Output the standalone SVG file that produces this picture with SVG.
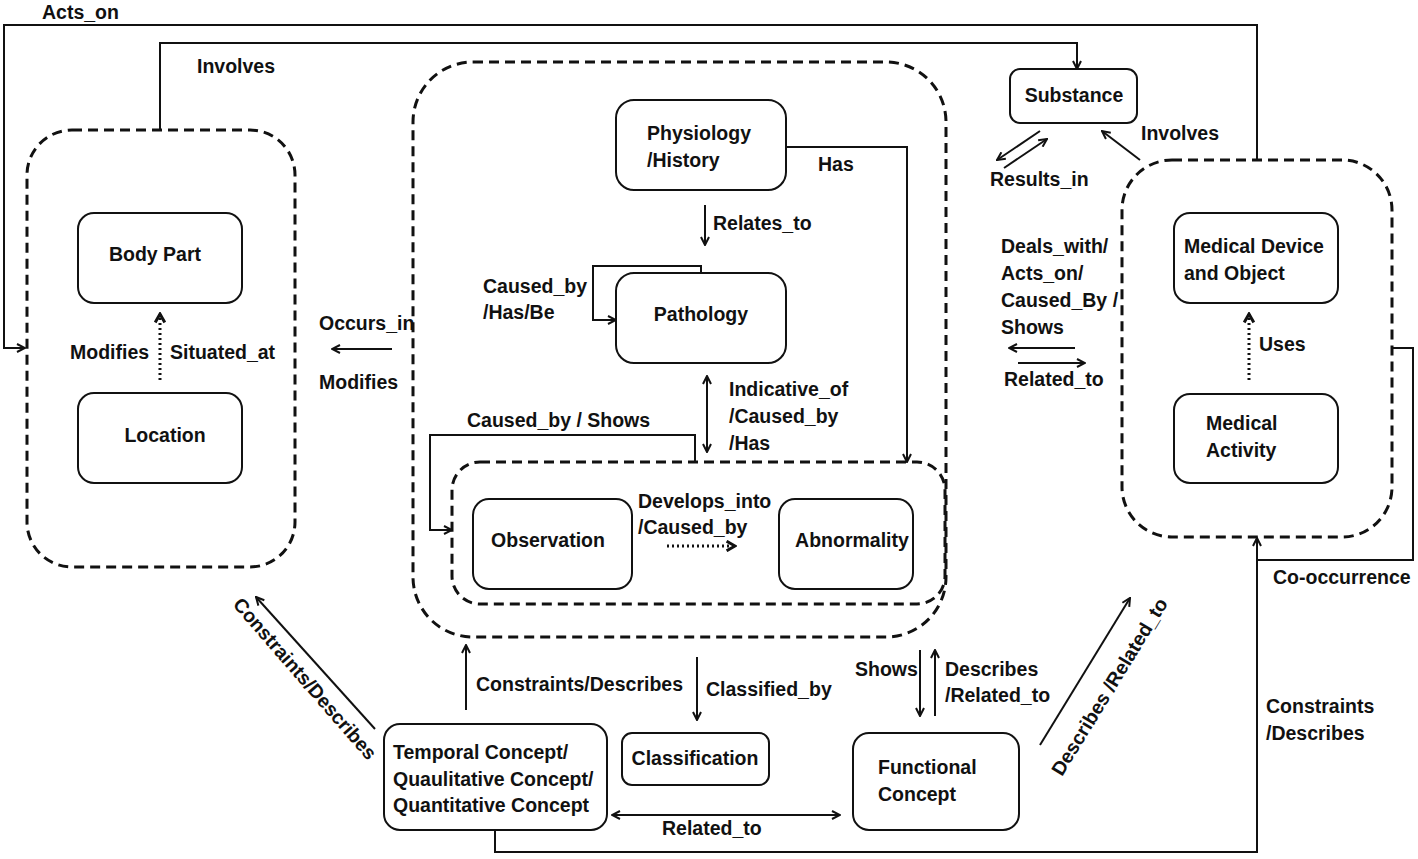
<svg xmlns="http://www.w3.org/2000/svg" width="1418" height="859" viewBox="0 0 1418 859">
<style>
text{font-family:"Liberation Sans",Arial,sans-serif;font-size:19.5px;font-weight:bold;fill:#111}
.box{fill:#fff;stroke:#111;stroke-width:2}
.grp{fill:none;stroke:#111;stroke-width:3;stroke-dasharray:10,6}
.ln{fill:none;stroke:#111;stroke-width:2}
.dot{fill:none;stroke:#111;stroke-width:3;stroke-dasharray:2,3}
.c{text-anchor:middle}
</style>
<defs>
<marker id="a" viewBox="0 0 10 10" refX="9" refY="5" markerWidth="10" markerHeight="10" markerUnits="userSpaceOnUse" orient="auto-start-reverse">
<path d="M1,1 L9,5 L1,9" fill="none" stroke="#111" stroke-width="2"/>
</marker>
<marker id="b" viewBox="0 0 10 10" refX="8" refY="5" markerWidth="12" markerHeight="12" markerUnits="userSpaceOnUse" orient="auto">
<path d="M1,1 L8,5 L1,9" fill="none" stroke="#111" stroke-width="2.5"/>
</marker>
</defs>
<rect width="1418" height="859" fill="#fff"/>

<g id="groups">
<rect id="g-left" class="grp" x="27" y="130" width="268" height="437" rx="45"/>
<rect id="g-center" class="grp" x="413" y="62" width="533" height="575" rx="60"/>
<rect id="g-inner" class="grp" x="452" y="462" width="493" height="142" rx="28"/>
<rect id="g-right" class="grp" x="1122" y="160" width="270" height="377" rx="50"/>
</g>

<g id="connectors">
<polyline class="ln" points="1257,160 1257,25 4,25 4,348 25,348" marker-end="url(#a)"/>
<polyline class="ln" points="160,130 160,43 1077,43 1077,69" marker-end="url(#a)"/>
<line class="ln" x1="1040" y1="131" x2="997" y2="160" marker-end="url(#a)"/>
<line class="ln" x1="1004" y1="168" x2="1047" y2="139" marker-end="url(#a)"/>
<line class="ln" x1="1140" y1="160" x2="1102" y2="131" marker-end="url(#a)"/>
<line class="dot" x1="160" y1="380" x2="160" y2="314" marker-end="url(#b)"/>
<line class="dot" x1="1249" y1="380" x2="1249" y2="314" marker-end="url(#b)"/>
<line class="dot" x1="667" y1="546" x2="735" y2="546" marker-end="url(#b)"/>
<line class="ln" x1="392" y1="349" x2="332" y2="349" marker-end="url(#a)"/>
<polyline class="ln" points="786,147 907,147 907,462" marker-end="url(#a)"/>
<line class="ln" x1="705" y1="205" x2="705" y2="245" marker-end="url(#a)"/>
<polyline class="ln" points="701,273 701,266 593,266 593,320 616,320" marker-end="url(#a)"/>
<line class="ln" x1="707" y1="376" x2="707" y2="452" marker-start="url(#a)" marker-end="url(#a)"/>
<polyline class="ln" points="695,462 695,435 430,435 430,530 452,530" marker-end="url(#a)"/>
<line class="ln" x1="1075" y1="348" x2="1009" y2="348" marker-end="url(#a)"/>
<line class="ln" x1="1018" y1="363" x2="1085" y2="363" marker-end="url(#a)"/>
<polyline class="ln" points="1392,348 1413,348 1413,560 1257,560 1257,538" marker-end="url(#a)"/>
<polyline class="ln" points="495,830 495,852 1257,852 1257,560"/>
<line class="ln" x1="466" y1="710" x2="466" y2="645" marker-end="url(#a)"/>
<line class="ln" x1="697" y1="657" x2="697" y2="720" marker-end="url(#a)"/>
<line class="ln" x1="612" y1="815" x2="840" y2="815" marker-start="url(#a)" marker-end="url(#a)"/>
<line class="ln" x1="920" y1="650" x2="920" y2="716" marker-end="url(#a)"/>
<line class="ln" x1="935" y1="716" x2="935" y2="650" marker-end="url(#a)"/>
<line class="ln" x1="1040" y1="745" x2="1130" y2="598" marker-end="url(#a)"/>
<line class="ln" x1="375" y1="729" x2="256" y2="597" marker-end="url(#a)"/>
</g>

<g id="labels">
<text x="42" y="19">Acts_on</text>
<text x="197" y="73">Involves</text>
<text x="990" y="186">Results_in</text>
<text x="1141" y="140">Involves</text>
<text x="70" y="359">Modifies</text>
<text x="170" y="359">Situated_at</text>
<text x="319" y="330">Occurs_in</text>
<text x="319" y="389">Modifies</text>
<text x="818" y="171">Has</text>
<text x="713" y="230">Relates_to</text>
<text x="483" y="293">Caused_by</text>
<text x="483" y="319">/Has/Be</text>
<text x="729" y="396">Indicative_of</text>
<text x="729" y="423">/Caused_by</text>
<text x="729" y="450">/Has</text>
<text x="467" y="427">Caused_by / Shows</text>
<text x="638" y="508">Develops_into</text>
<text x="638" y="534">/Caused_by</text>
<text x="1001" y="253">Deals_with/</text>
<text x="1001" y="280">Acts_on/</text>
<text x="1001" y="307">Caused_By /</text>
<text x="1001" y="334">Shows</text>
<text x="1004" y="386">Related_to</text>
<text x="1259" y="351">Uses</text>
<text x="1273" y="584">Co-occurrence</text>
<text x="1266" y="713">Constraints</text>
<text x="1266" y="740">/Describes</text>
<text x="476" y="691">Constraints/Describes</text>
<text x="706" y="696">Classified_by</text>
<text x="662" y="835">Related_to</text>
<text x="855" y="676">Shows</text>
<text x="945" y="676">Describes</text>
<text x="945" y="702">/Related_to</text>
<text transform="translate(1062,777) rotate(-58.5)">Describes /Related_to</text>
<text transform="translate(232,605) rotate(49)">Constraints/Describes</text>
</g>

<g id="n-bodypart"><rect class="box" x="78" y="213" width="164" height="90" rx="16"/><text x="155" y="261" class="c">Body Part</text></g>
<g id="n-location"><rect class="box" x="78" y="393" width="164" height="90" rx="16"/><text x="165" y="442" class="c">Location</text></g>
<g id="n-physiology"><rect class="box" x="616" y="100" width="170" height="90" rx="18"/><text x="647" y="140">Physiology</text><text x="647" y="167">/History</text></g>
<g id="n-pathology"><rect class="box" x="616" y="273" width="170" height="90" rx="18"/><text x="701" y="321" class="c">Pathology</text></g>
<g id="n-observation"><rect class="box" x="473" y="499" width="159" height="90" rx="16"/><text x="548" y="547" class="c">Observation</text></g>
<g id="n-abnormality"><rect class="box" x="779" y="499" width="134" height="90" rx="16"/><text x="852" y="547" class="c">Abnormality</text></g>
<g id="n-substance"><rect class="box" x="1010" y="69" width="127" height="54" rx="10"/><text x="1074" y="102" class="c">Substance</text></g>
<g id="n-device"><rect class="box" x="1174" y="213" width="164" height="90" rx="16"/><text x="1184" y="253">Medical Device</text><text x="1184" y="280">and Object</text></g>
<g id="n-activity"><rect class="box" x="1174" y="394" width="164" height="89" rx="16"/><text x="1206" y="430">Medical</text><text x="1206" y="457">Activity</text></g>
<g id="n-temporal"><rect class="box" x="384" y="724" width="223" height="106" rx="16"/><text x="393" y="759">Temporal Concept/</text><text x="393" y="786">Quaulitative Concept/</text><text x="393" y="812">Quantitative Concept</text></g>
<g id="n-classification"><rect class="box" x="622" y="733" width="147" height="52" rx="10"/><text x="695" y="765" class="c">Classification</text></g>
<g id="n-functional"><rect class="box" x="853" y="733" width="166" height="97" rx="16"/><text x="878" y="774">Functional</text><text x="878" y="801">Concept</text></g>
</svg>
